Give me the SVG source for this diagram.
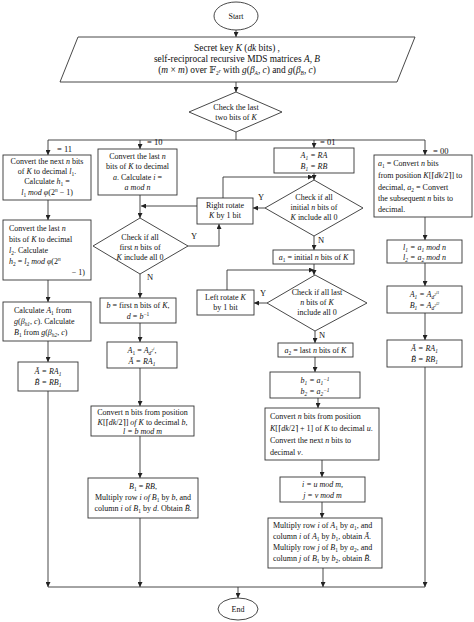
<svg xmlns="http://www.w3.org/2000/svg" width="474" height="622" viewBox="0 0 474 622">
<defs>
<marker id="ah" viewBox="0 0 8 8" refX="8" refY="4" markerWidth="5" markerHeight="5" orient="auto" markerUnits="userSpaceOnUse"><path d="M0,0 L8,4 L0,8 z" fill="#222"/></marker>
<style>
.t{font-family:"Liberation Serif","Times New Roman",serif;font-size:8px;fill:#111}
.c{text-anchor:middle}
.r{text-anchor:end}
.i{font-style:italic}
.sb{font-size:5.4px;baseline-shift:-1.8px}
.sp{font-size:5.4px;baseline-shift:3px}
.m{font-family:"DejaVu Serif",serif;font-style:normal}
.b{fill:#fff;stroke:#333;stroke-width:0.9}
.l{fill:none;stroke:#333;stroke-width:0.9}
.a{fill:none;stroke:#333;stroke-width:0.9;marker-end:url(#ah)}
.lb{font-family:"Liberation Serif",serif;font-size:8.5px;fill:#111}
.p{font-size:9.4px}
</style>
</defs>
<g id="connectors">
<path class="a" d="M236,30 V37"/>
<path class="a" d="M236,82 V92"/>
<path class="l" d="M236,132 V140 M48,140 H425"/>
<path class="a" d="M48,140 V155"/>
<path class="a" d="M140,140 V149"/>
<path class="a" d="M314,140 V148"/>
<path class="a" d="M425,140 V155"/>
<path class="a" d="M48,200 V220"/>
<path class="a" d="M48,280 V302"/>
<path class="a" d="M48,341 V362"/>
<path class="a" d="M48,391 V587"/>
<path class="a" d="M140,195 V218"/>
<path class="a" d="M197,206 H141"/>
<path class="a" d="M188,246 H219 V224"/>
<path class="a" d="M140,274 V298"/>
<path class="a" d="M140,323 V342"/>
<path class="a" d="M140,368 V406"/>
<path class="a" d="M140,436 V478"/>
<path class="a" d="M140,518 V587"/>
<path class="a" d="M314,173 V180"/>
<path class="a" d="M223,198 V177 H313"/>
<path class="a" d="M265,208 H253"/>
<path class="a" d="M314,236 V250"/>
<path class="a" d="M314,264 V275"/>
<path class="a" d="M227,290 V270 H314"/>
<path class="a" d="M267,303 H254"/>
<path class="a" d="M315,331 V343"/>
<path class="a" d="M315,357 V372"/>
<path class="a" d="M318,398 V408"/>
<path class="a" d="M322,460 V477"/>
<path class="a" d="M322,502 V518"/>
<path class="a" d="M323,568 V587"/>
<path class="a" d="M425,217 V240"/>
<path class="a" d="M425,263 V286"/>
<path class="a" d="M425,313 V340"/>
<path class="a" d="M425,367 V587"/>
<path class="l" d="M48,587 H425"/>
<path class="a" d="M238,587 V598"/>
<text class="lb" x="57" y="152">= 11</text>
<text class="lb" x="147" y="145">= 10</text>
<text class="lb" x="320" y="145">= 01</text>
<text class="lb" x="433" y="154">= 00</text>
<text class="lb" x="191" y="239">Y</text>
<text class="lb" x="147" y="280">N</text>
<text class="lb" x="258" y="200">Y</text>
<text class="lb" x="318" y="243">N</text>
<text class="lb" x="260" y="296">Y</text>
<text class="lb" x="319" y="338">N</text>
</g>
<g id="start">
<ellipse class="b" cx="236" cy="16" rx="22" ry="14"/>
<text class="t c" x="236" y="19">Start</text>
</g>
<g id="input">
<polygon class="b" points="78,37 415,37 397,82 60,82"/>
<text class="t c p" x="237" y="51">Secret key <tspan class="i">K</tspan> (<tspan class="i">dk</tspan> bits) ,</text>
<text class="t c p" x="237" y="62">self-reciprocal recursive MDS matrices <tspan class="i">A</tspan>, <tspan class="i">B</tspan></text>
<text class="t c p" x="237" y="73">(<tspan class="i">m</tspan> × <tspan class="i">m</tspan>) over <tspan class="m">𝔽</tspan><tspan class="sb">2<tspan class="i" style="baseline-shift:2px">r</tspan></tspan> with <tspan class="i">g</tspan>(<tspan class="i">β</tspan><tspan class="sb i">A</tspan>, <tspan class="i">c</tspan>) and <tspan class="i">g</tspan>(<tspan class="i">β</tspan><tspan class="sb i">B</tspan>, <tspan class="i">c</tspan>)</text>
</g>
<g id="check-bits">
<polygon class="b" points="236,92 282,112 236,132 189,112"/>
<text class="t c" x="236" y="110">Check the last</text>
<text class="t c" x="236" y="120">two bits of <tspan class="i">K</tspan></text>
</g>
<g id="n11-1">
<rect class="b" x="3" y="155" width="88" height="45"/>
<text class="t c" x="47" y="164">Convert the next <tspan class="i">n</tspan> bits</text>
<text class="t c" x="47" y="174">of <tspan class="i">K</tspan> to decimal <tspan class="i">l</tspan><tspan class="sb">1</tspan>.</text>
<text class="t c" x="47" y="184">Calculate <tspan class="i">h</tspan><tspan class="sb">1</tspan> =</text>
<text class="t c" x="47" y="195"><tspan class="i">l</tspan><tspan class="sb">1</tspan> <tspan class="i">mod φ</tspan>(2<tspan class="sp i">n</tspan> − 1)</text>
</g>
<g id="n11-2">
<rect class="b" x="3" y="220" width="88" height="60"/>
<text class="t" x="9" y="231">Convert the last <tspan class="i">n</tspan></text>
<text class="t" x="9" y="242">bits of <tspan class="i">K</tspan> to decimal</text>
<text class="t" x="9" y="253"><tspan class="i">l</tspan><tspan class="sb">2</tspan>. Calculate</text>
<text class="t" x="9" y="264"><tspan class="i">h</tspan><tspan class="sb">2</tspan> = <tspan class="i">l</tspan><tspan class="sb">2</tspan> <tspan class="i">mod φ</tspan>(2<tspan class="sp i">n</tspan></text>
<text class="t r" x="85" y="275">− 1)</text>
</g>
<g id="n11-3">
<rect class="b" x="3" y="302" width="88" height="39"/>
<text class="t" x="14" y="313">Calculate <tspan class="i">A</tspan><tspan class="sb">1</tspan> from</text>
<text class="t" x="14" y="324"><tspan class="i">g</tspan>(<tspan class="i">β</tspan><tspan class="sb i">h1</tspan>, <tspan class="i">c</tspan>). Calculate</text>
<text class="t" x="14" y="335"><tspan class="i">B</tspan><tspan class="sb">1</tspan> from <tspan class="i">g</tspan>(<tspan class="i">β</tspan><tspan class="sb i">h2</tspan>, <tspan class="i">c</tspan>)</text>
</g>
<g id="n11-4">
<rect class="b" x="18" y="362" width="60" height="29"/>
<text class="t c i" x="48" y="374">Ã = RA<tspan class="sb">1</tspan></text>
<text class="t c i" x="48" y="385">B̃ = RB<tspan class="sb">1</tspan></text>
</g>
<g id="n10-1">
<rect class="b" x="98" y="149" width="79" height="46"/>
<text class="t c" x="137.5" y="159">Convert the last <tspan class="i">n</tspan></text>
<text class="t c" x="137.5" y="169">bits of <tspan class="i">K</tspan> to decimal</text>
<text class="t c" x="137.5" y="180"><tspan class="i">a</tspan>. Calculate <tspan class="i">i</tspan> =</text>
<text class="t c i" x="137.5" y="190">a mod n</text>
</g>
<g id="right-rotate">
<rect class="b" x="197" y="198" width="56" height="26"/>
<text class="t c" x="225" y="208">Right rotate</text>
<text class="t c" x="225" y="218"><tspan class="i">K</tspan> by 1 bit</text>
</g>
<g id="n10-check">
<polygon class="b" points="140,218 188,246 140,274 93,246"/>
<text class="t c" x="140" y="240">Check if all</text>
<text class="t c" x="140" y="250">first <tspan class="i">n</tspan> bits of</text>
<text class="t c" x="140" y="260"><tspan class="i">K</tspan> include all 0</text>
</g>
<g id="n10-2">
<rect class="b" x="100" y="298" width="76" height="25"/>
<text class="t c" x="138" y="308"><tspan class="i">b</tspan> = first n bits of <tspan class="i">K</tspan>,</text>
<text class="t c" x="138" y="319"><tspan class="i">d</tspan> = <tspan class="i">b</tspan><tspan class="sp">−1</tspan></text>
</g>
<g id="n10-3">
<rect class="b" x="107" y="342" width="70" height="26"/>
<text class="t c" x="142" y="353"><tspan class="i">A</tspan><tspan class="sb">1</tspan> = <tspan class="i">A</tspan><tspan class="sb i">d<tspan style="font-size:4px;baseline-shift:3px">2<tspan style="baseline-shift:2px">i</tspan></tspan></tspan>,</text>
<text class="t c i" x="142" y="364">Ã = RA<tspan class="sb">1</tspan></text>
</g>
<g id="n10-4">
<rect class="b" x="91" y="406" width="103" height="30"/>
<text class="t c" x="142.5" y="415">Convert n bits from position</text>
<text class="t c" x="142.5" y="425"><tspan class="i">K</tspan>[<tspan class="m">⌈</tspan><tspan class="i">dk</tspan>/2<tspan class="m">⌉</tspan>] <tspan class="i">of K</tspan> to decimal <tspan class="i">b</tspan>,</text>
<text class="t c i" x="142.5" y="433.5">l = b mod m</text>
</g>
<g id="n10-5">
<rect class="b" x="88" y="478" width="110" height="40"/>
<text class="t c" x="143" y="489"><tspan class="i">B</tspan><tspan class="sb">1</tspan> = <tspan class="i">RB</tspan>,</text>
<text class="t c" x="143" y="500">Multiply row <tspan class="i">i of B</tspan><tspan class="sb">1</tspan> by <tspan class="i">b</tspan>, and</text>
<text class="t c" x="143" y="511">column <tspan class="i">i</tspan> of <tspan class="i">B</tspan><tspan class="sb">1</tspan> by <tspan class="i">d</tspan>. Obtain <tspan class="i">B̃</tspan>.</text>
</g>
<g id="n01-1">
<rect class="b" x="274" y="148" width="80" height="25"/>
<text class="t c i" x="314" y="158">A<tspan class="sb">1</tspan> = RA</text>
<text class="t c i" x="314" y="169">B<tspan class="sb">1</tspan> = RB</text>
</g>
<g id="n01-check1">
<polygon class="b" points="314,180 363,208 314,236 265,208"/>
<text class="t c" x="314" y="200">Check if all</text>
<text class="t c" x="314" y="210">initial <tspan class="i">n</tspan> bits of</text>
<text class="t c" x="314" y="220"><tspan class="i">K</tspan> include all 0</text>
</g>
<g id="n01-2">
<rect class="b" x="273" y="250" width="81" height="14"/>
<text class="t c" x="313.5" y="259.5"><tspan class="i">a</tspan><tspan class="sb">1</tspan> = initial <tspan class="i">n</tspan> bits of <tspan class="i">K</tspan></text>
</g>
<g id="left-rotate">
<rect class="b" x="197" y="290" width="57" height="25"/>
<text class="t c" x="225.5" y="300">Left rotate <tspan class="i">K</tspan></text>
<text class="t c" x="225.5" y="310">by 1 bit</text>
</g>
<g id="n01-check2">
<polygon class="b" points="315,275 367,303 315,331 267,303"/>
<text class="t c" x="317" y="295">Check if all last</text>
<text class="t c" x="317" y="305"><tspan class="i">n</tspan>  bits of  <tspan class="i">K</tspan></text>
<text class="t c" x="317" y="315">include all 0</text>
</g>
<g id="n01-3">
<rect class="b" x="278" y="343" width="75" height="14"/>
<text class="t c" x="315.5" y="352.5"><tspan class="i">a</tspan><tspan class="sb">2</tspan> = last <tspan class="i">n</tspan> bits of <tspan class="i">K</tspan></text>
</g>
<g id="n01-4">
<rect class="b" x="270" y="372" width="90" height="26"/>
<text class="t c i" x="315" y="383">b<tspan class="sb">1</tspan> = a<tspan class="sb">1</tspan><tspan class="sp" style="baseline-shift:2px">−1</tspan></text>
<text class="t c i" x="315" y="394">b<tspan class="sb">2</tspan> = a<tspan class="sb">2</tspan><tspan class="sp" style="baseline-shift:2px">−1</tspan></text>
</g>
<g id="n01-5">
<rect class="b" x="265" y="408" width="114" height="52"/>
<text class="t" x="270" y="419">Convert <tspan class="i">n</tspan> bits from position</text>
<text class="t" x="270" y="431"><tspan class="i">K</tspan>[<tspan class="m">⌈</tspan><tspan class="i">dk</tspan>/2<tspan class="m">⌉</tspan> + 1] of <tspan class="i">K</tspan> to decimal <tspan class="i">u</tspan>.</text>
<text class="t" x="270" y="443">Convert the next <tspan class="i">n</tspan> bits to</text>
<text class="t" x="270" y="455">decimal <tspan class="i">v</tspan>.</text>
</g>
<g id="n01-6">
<rect class="b" x="280" y="477" width="85" height="25"/>
<text class="t c i" x="322.5" y="487">i = u mod m,</text>
<text class="t c i" x="322.5" y="498">j = v mod m</text>
</g>
<g id="n01-7">
<rect class="b" x="268" y="518" width="114" height="50"/>
<text class="t" x="273" y="528">Multiply row <tspan class="i">i</tspan> of <tspan class="i">A</tspan><tspan class="sb">1</tspan> by <tspan class="i">a</tspan><tspan class="sb">1</tspan>, and</text>
<text class="t" x="273" y="539">column <tspan class="i">i</tspan> of <tspan class="i">A</tspan><tspan class="sb">1</tspan> by <tspan class="i">b</tspan><tspan class="sb">1</tspan>, obtain <tspan class="i">Ã</tspan>.</text>
<text class="t" x="273" y="550">Multiply row <tspan class="i">j</tspan> of <tspan class="i">B</tspan><tspan class="sb">1</tspan> by <tspan class="i">a</tspan><tspan class="sb">2</tspan>, and</text>
<text class="t" x="273" y="561">column <tspan class="i">j</tspan> of <tspan class="i">B</tspan><tspan class="sb">1</tspan> by <tspan class="i">b</tspan><tspan class="sb">2</tspan>, obtain <tspan class="i">B̃</tspan>.</text>
</g>
<g id="n00-1">
<rect class="b" x="374" y="155" width="98" height="62"/>
<text class="t" x="378" y="166"><tspan class="i">a</tspan><tspan class="sb">1</tspan> = Convert <tspan class="i">n</tspan>  bits</text>
<text class="t" x="378" y="178">from position <tspan class="i">K</tspan>[<tspan class="m">⌈</tspan><tspan class="i">dk</tspan>/2<tspan class="m">⌉</tspan>] to</text>
<text class="t" x="378" y="190">decimal, <tspan class="i">a</tspan><tspan class="sb">2</tspan> = Convert</text>
<text class="t" x="378" y="201">the subsequent <tspan class="i">n</tspan> bits to</text>
<text class="t" x="378" y="212">decimal.</text>
</g>
<g id="n00-2">
<rect class="b" x="387" y="240" width="75" height="23"/>
<text class="t c i" x="424.5" y="250">l<tspan class="sb">1</tspan> = a<tspan class="sb">1</tspan> mod n</text>
<text class="t c i" x="424.5" y="260">l<tspan class="sb">2</tspan> = a<tspan class="sb">2</tspan> mod n</text>
</g>
<g id="n00-3">
<rect class="b" x="387" y="286" width="75" height="27"/>
<text class="t c i" x="424.5" y="297">A<tspan class="sb">1</tspan> = A<tspan class="sb">d<tspan style="font-size:4px;baseline-shift:3px">2<tspan style="baseline-shift:2px">l1</tspan></tspan></tspan></text>
<text class="t c i" x="424.5" y="308">B<tspan class="sb">1</tspan> = A<tspan class="sb">d<tspan style="font-size:4px;baseline-shift:3px">2<tspan style="baseline-shift:2px">l2</tspan></tspan></tspan></text>
</g>
<g id="n00-4">
<rect class="b" x="387" y="340" width="75" height="27"/>
<text class="t c i" x="424.5" y="351">Ã = RA<tspan class="sb">1</tspan></text>
<text class="t c i" x="424.5" y="362">B̃ = RB<tspan class="sb">1</tspan></text>
</g>
<g id="end">
<ellipse class="b" cx="238" cy="609" rx="20" ry="11"/>
<text class="t c" x="238" y="612">End</text>
</g>
</svg>
